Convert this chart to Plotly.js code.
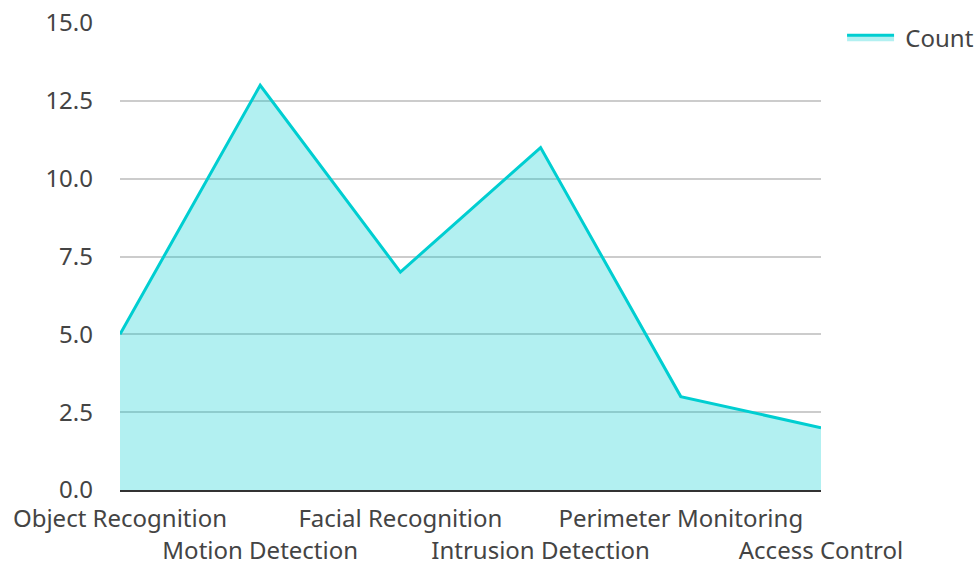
<!DOCTYPE html>
<html>
<head>
<meta charset="utf-8">
<script src="https://cdn.plot.ly/plotly-3.0.1.min.js"></script>
<style>html,body{margin:0;padding:0;background:#fff;}#chart{width:978px;height:562px;}</style>
</head>
<body>
<div id="chart"></div>
<script>
const categories = ["Object Recognition", "Motion Detection", "Facial Recognition", "Intrusion Detection", "Perimeter Monitoring", "Access Control"];
const counts = [5, 13, 7, 11, 3, 2];
const seriesName = "Count";
const yTicks = [0, 2.5, 5, 7.5, 10, 12.5, 15];

const idx = categories.map((c, i) => i);
const rowA = idx.filter(i => i % 2 === 0);
const rowB = idx.filter(i => i % 2 === 1);

const font = {family: "Noto Sans, Open Sans, sans-serif", size: 24, color: "#444"};

const trace = {
  type: "scatter",
  mode: "lines",
  x: idx,
  y: counts,
  name: "\u00a0" + seriesName,
  fill: "tozeroy",
  fillcolor: "rgba(0,206,209,0.3)",
  line: {color: "#00CED1", width: 3},
  hoverinfo: "x+y"
};

const layout = {
  width: 978,
  height: 562,
  margin: {l: 120, r: 157, t: 23, b: 72, autoexpand: false},
  paper_bgcolor: "#fff",
  plot_bgcolor: "#fff",
  font: font,
  showlegend: true,
  legend: {xref: "container", yref: "container", x: 0.861, y: 0.973, xanchor: "left", yanchor: "top", font: font, itemwidth: 47, bgcolor: "rgba(0,0,0,0)"},
  xaxis: {
    type: "linear",
    automargin: false,
    range: [0, categories.length - 1],
    tickmode: "array",
    tickvals: rowA,
    ticktext: rowA.map(i => categories[i]),
    tickangle: 0,
    showgrid: false,
    zeroline: false,
    showline: true,
    linecolor: "#333",
    linewidth: 2,
    ticks: "",
    ticklabelstandoff: 6,
    tickfont: font
  },
  xaxis2: {
    type: "linear",
    automargin: false,
    overlaying: "x",
    anchor: "y",
    side: "bottom",
    range: [0, categories.length - 1],
    tickmode: "array",
    tickvals: rowB,
    ticktext: rowB.map(i => categories[i]),
    tickangle: 0,
    showgrid: false,
    zeroline: false,
    showline: false,
    ticks: "",
    ticklabelstandoff: 44,
    tickfont: font
  },
  yaxis: {
    automargin: false,
    range: [0, 15],
    tickmode: "array",
    tickvals: yTicks,
    ticktext: yTicks.map(v => v.toFixed(1)),
    showgrid: true,
    gridcolor: "#ccc",
    gridwidth: 2,
    zeroline: false,
    showline: false,
    ticks: "",
    ticklabelstandoff: 26,
    tickfont: font
  }
};

const dummy = {type: "scatter", mode: "none", x: [], y: [], xaxis: "x2", yaxis: "y", showlegend: false, hoverinfo: "skip"};

Plotly.newPlot("chart", [trace, dummy], layout, {displayModeBar: false});
</script>
</body>
</html>
